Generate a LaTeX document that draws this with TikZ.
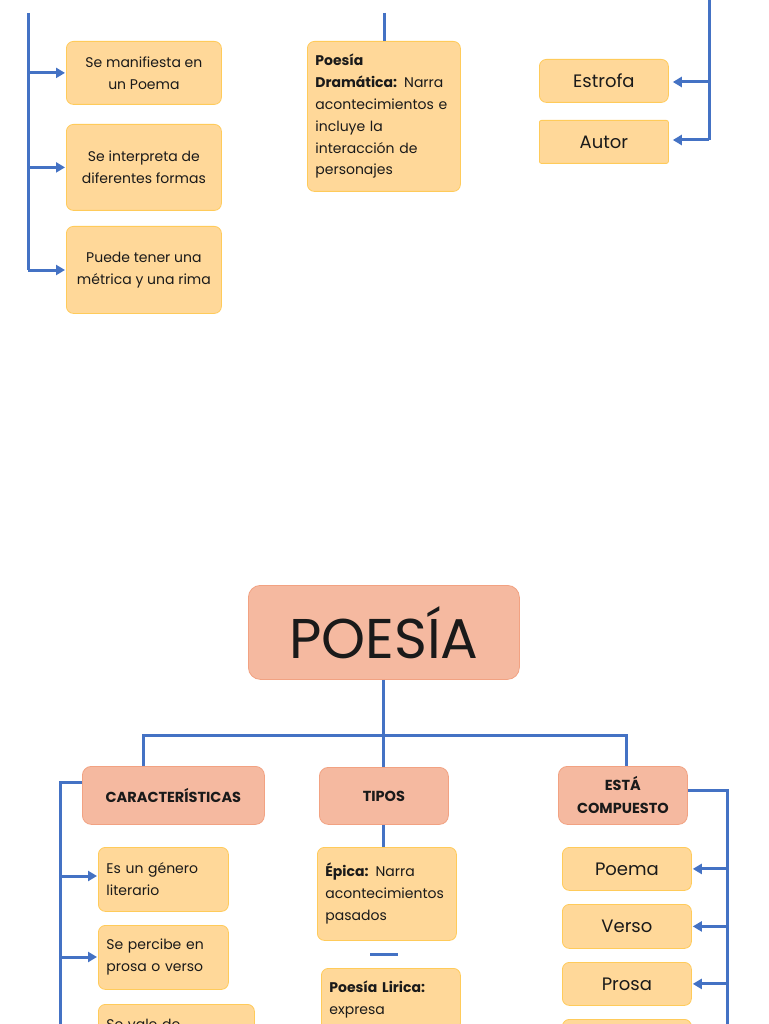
\documentclass[tikz,border=0pt]{standalone}
\usepackage{fontspec}
\setmainfont{Poppins}
\usetikzlibrary{arrows.meta}
\definecolor{boxfill}{HTML}{FFD899}
\definecolor{boxline}{HTML}{FFCB5A}
\definecolor{headfill}{HTML}{F5B9A0}
\definecolor{headline}{HTML}{F2A282}
\definecolor{conn}{HTML}{4472C4}
\definecolor{ink}{HTML}{1A1A1A}
\begin{document}
\begin{tikzpicture}[x=1pt,y=-1pt,
  item/.style={draw=boxline, fill=boxfill, rounded corners=7pt, line width=0.8pt,
    inner sep=0pt, anchor=north west, text=ink, align=center,
    font=\fontsize{14}{22}\selectfont},
  itemleft/.style={item, align=left},
  bigitem/.style={item, font=\fontsize{18}{24}\selectfont},
  head/.style={draw=headline, fill=headfill, rounded corners=9pt, line width=0.8pt,
    inner sep=0pt, anchor=north west, text=ink, align=center,
    font=\bfseries\fontsize{14.5}{23}\selectfont},
  link/.style={draw=conn, line width=3pt},
  arrowlink/.style={link, -{Triangle[length=9pt,width=10pt]}, shorten >=1pt}
]
\useasboundingbox (0,0) rectangle (768,1024);
\fill[white] (0,0) rectangle (768,1024);
\clip (0,0) rectangle (768,1024);

% ---------------- top part ----------------
\node[item, minimum width=155, minimum height=63] (m1) at (66,41) {Se manifiesta en\\un Poema};
\node[item, minimum width=155, minimum height=86] (m2) at (66,124) {Se interpreta de\\diferentes formas};
\node[item, minimum width=155, minimum height=87] (m3) at (66,226) {Puede tener una\\métrica y una rima};

\coordinate (lt) at (28,13);
\coordinate (lb) at (28,270);
\draw[link] (lt) -- (lb);
\draw[arrowlink] (lt |- m1.west) -- (m1.west);
\draw[arrowlink] (lt |- m2.west) -- (m2.west);
\draw[arrowlink] (lb) -- (lb -| m3.west);

\node[itemleft, minimum width=153, minimum height=150, text width=137,
  font=\fontsize{14}{21.8}\selectfont] (dram) at (307,41)
  {\textbf{Poesía}\\\textbf{Dramática:} Narra\\acontecimientos e\\incluye la\\interacción de\\personajes};
\coordinate (dt) at (384,13);
\draw[link] (dt) -- (dt |- dram.north);

\node[bigitem, minimum width=129, minimum height=43] (estrofa) at (539,59) {Estrofa};
\node[bigitem, minimum width=129, minimum height=43, rounded corners=2pt] (autor) at (539,120) {Autor};
\coordinate (rt) at (709,-2);
\coordinate (rb) at (709,140);
\draw[link] (rt) -- (rb);
\draw[arrowlink, shorten >=4pt] (rt |- 0,82) -- (estrofa.east |- 0,82);
\draw[arrowlink, shorten >=4pt] (rb) -- (autor.east |- rb);

% ---------------- bottom part ----------------
\node[head, minimum width=271, minimum height=94, rounded corners=12pt,
  font=\fontsize{56}{60}\selectfont] (poesia) at (248,585) {POESÍA};

\node[head, minimum width=182, minimum height=58] (car) at (82,766) {CARACTERÍSTICAS};
\node[head, minimum width=129, minimum height=57] (tipos) at (319,767) {TIPOS};
\node[head, minimum width=129, minimum height=58] (est) at (558,766) {ESTÁ\\COMPUESTO};

\coordinate (jL) at (143,735);
\coordinate (jR) at (626,735);
\draw[link] (poesia.south) -- (tipos.north);
\draw[link] (car.north -| jL) -- (jL) -- (jR) -- (est.north -| jR);

% characteristics
\node[itemleft, minimum width=130, minimum height=64, text width=114] (g1) at (98,847) {Es un género\\literario};
\node[itemleft, minimum width=130, minimum height=64, text width=114] (g2) at (98,925) {Se percibe en\\prosa o verso};
\node[itemleft, minimum width=156, minimum height=40, text width=140] (g3) at (98,1004) {Se vale de};

\coordinate (cL) at (60,782);
\coordinate (cB) at (60,1030);
\draw[link] (cL -| car.west) -- (cL) -- (cB);
\draw[arrowlink] (cL |- 0,876) -- (g1.west |- 0,876);
\draw[arrowlink] (cL |- 0,957) -- (g2.west |- 0,957);

% types
\node[itemleft, minimum width=139, minimum height=93, text width=123] (epica) at (317,847)
  {\textbf{Épica:} Narra\\acontecimientos\\pasados};
\draw[link] (tipos.south) -- (tipos.south |- epica.north);
\coordinate (d1) at (370,954);
\coordinate (d2) at (398,954);
\draw[link] (d1) -- (d2);
\node[itemleft, minimum width=139, minimum height=62, text width=123] (lirica) at (321,968)
  {\textbf{Poesía Lirica:}\\expresa};

% composition
\node[bigitem, minimum width=129, minimum height=43] (poema) at (562,847) {Poema};
\node[bigitem, minimum width=129, minimum height=44] (verso) at (562,904) {Verso};
\node[bigitem, minimum width=129, minimum height=43] (prosa) at (562,962) {Prosa};
\node[bigitem, minimum width=129, minimum height=43] (next) at (562,1019) {};

\coordinate (eR) at (727,790);
\coordinate (eB) at (727,1030);
\draw[link] (eR -| est.east) -- (eR) -- (eB);
\draw[arrowlink] (eR |- poema.east) -- (poema.east);
\draw[arrowlink] (eR |- verso.east) -- (verso.east);
\draw[arrowlink] (eR |- prosa.east) -- (prosa.east);
\end{tikzpicture}
\end{document}
